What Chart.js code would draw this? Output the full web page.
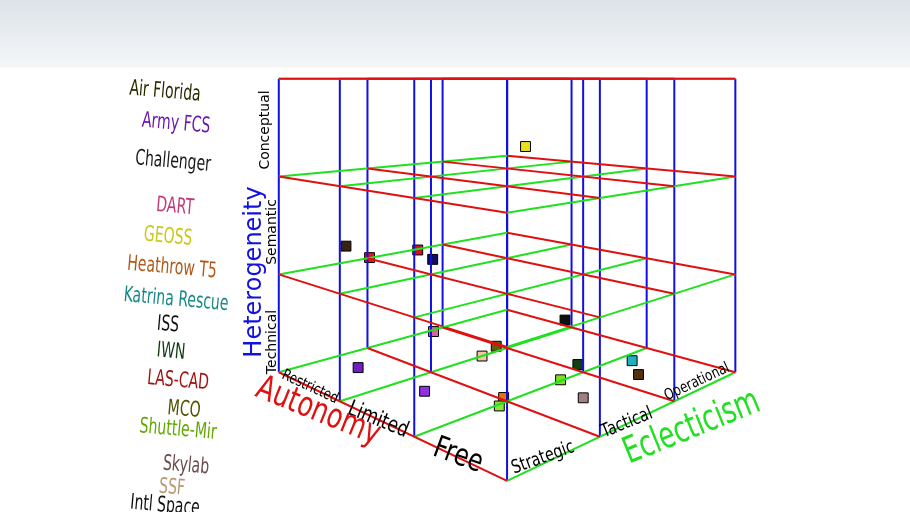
<!DOCTYPE html>
<html><head><meta charset="utf-8">
<script src="https://cdn.jsdelivr.net/npm/chart.js@4.4.0/dist/chart.umd.min.js"></script>
<style>
html,body{margin:0;padding:0;background:#fff;}
#wrap{position:relative;width:910px;height:512px;background:linear-gradient(#dde3ea 0px,#eef1f4 50px,#f4f6f8 67px,#fff 68px);}
canvas{position:absolute;left:0;top:0;}
</style></head>
<body><div id="wrap"><canvas id="c" width="910" height="512"></canvas></div>
<script>
// Projects and their (autonomy, eclecticism, heterogeneity) position, 0..3 on each axis
const projects = ["GEOSS","Air Florida","LAS-CAD","LAS-CAD 2","Challenger","ISS","DART","MCO","SSF","Army FCS","IWN","Katrina Rescue","Heathrow T5","Shuttle-Mir","Army FCS 2","Heathrow T5 2","Shuttle-Mir 2","Skylab"];
const autonomy    = [2.35,0.87,1.05,1.09,1.49,2.23,1.68,1.91,2.01,1.08,2.35,2.62,2.71,2.32,1.71,2.09,2.11,2.56];
const eclecticism = [0.86,0.15,0.27,0.77,0.61,1.48,0.46,0.96,0.70,0.13,1.51,1.92,1.89,1.32,0.34,0.87,0.80,1.33];
const heterogen   = [2.40,1.40,1.30,1.30,1.30,0.70,0.70,0.50,0.50,0.30,0.30,0.30,0.20,0.20,0.20,0.10,0.05,0.10];
const cubeColors  = ["#e8e020","#3a2210","#e81010","#d01020","#101060","#101010","#e060a0","#606010","#f0c8a0","#7020c0","#104010","#20b0c0","#503010","#80e020","#9030e0","#f07010","#90e040","#a08080"];

const autonomyTicks = ["Restricted","Limited","Free"];
const eclecticTicks = ["Strategic","Tactical","Operational"];
const heteroTicks   = ["Technical","Semantic","Conceptual"];
const legendNames   = ["Air Florida","Army FCS","Challenger","DART","GEOSS","Heathrow T5","Katrina Rescue","ISS","IWN","LAS-CAD","MCO","Shuttle-Mir","Skylab","SSF","Intl Space"];
const legendColors  = ["#2a2a00","#6a18b0","#1a1a1a","#c03878","#c8c818","#b05818","#188888","#111111","#103a10","#a01010","#505000","#60a800","#6a4a4a","#b89870","#111111"];

// perspective projection of the cube
const Z0 = 5.73, FX = 860, FY = 793, CX = 508, TOPY = 73;
function project(a, e, h) {
    const p = 3 - a;
    const X = (e - p) / Math.SQRT2;
    const Z = Z0 + (e + p) / Math.SQRT2;
    return { x: CX + FX * X / Z, y: TOPY + FY * (3 - h) / Z };
}

const datasets = [];
function addLine(p1, p2, color) {
    datasets.push({ data: [p1, p2], showLine: true, borderColor: color, borderWidth: 2,
        pointRadius: 0, fill: false });
}
for (let h = 0; h <= 3; h++) {
    for (let e = 0; e <= 3; e++) addLine(project(0, e, h), project(3, e, h), "#e01010");
    for (let a = 0; a <= 3; a++) addLine(project(a, 0, h), project(a, 3, h), "#20e020");
}
for (let a = 0; a <= 3; a++)
    for (let e = 0; e <= 3; e++) addLine(project(a, e, 0), project(a, e, 3), "#1010e0");

datasets.push({
    data: projects.map((n, i) => project(autonomy[i], eclecticism[i], heterogen[i])),
    pointStyle: "rect", pointRadius: 7,
    pointBackgroundColor: cubeColors, pointBorderColor: "#000", pointBorderWidth: 1,
    showLine: false
});

function drawText(ctx, txt, x, y, rot, font, color, sx, sy) {
    ctx.save();
    ctx.translate(x, y);
    ctx.rotate(rot * Math.PI / 180);
    ctx.scale(sx || 1, sy || 1);
    ctx.font = font;
    ctx.fillStyle = color;
    ctx.textAlign = "center";
    ctx.textBaseline = "middle";
    ctx.fillText(txt, 0, 0);
    ctx.restore();
}

const labelsPlugin = {
    id: "labels",
    afterDraw(chart) {
        const ctx = chart.ctx;
        const legendPos = [[165,92],[176,124],[173,162],[175,207],[168,237],[172,268],[176,300],[168,325],[171,352],[178,381],[184,410],[178,430],[186,466],[172,488],[165,506]];
        legendNames.forEach((n, i) => {
            drawText(ctx, n, legendPos[i][0], legendPos[i][1], 5, "18px 'DejaVu Sans'", legendColors[i], 0.78, 1.2);
        });
        const aPos = [[310,387],[378,420],[458,456]];
        const aRot = [25, 22, 20];
        const aSize = [14, 20, 28];
        autonomyTicks.forEach((t, i) => drawText(ctx, t, aPos[i][0], aPos[i][1], aRot[i], aSize[i] + "px 'DejaVu Sans'", "#000", 0.85, 1.1));
        const ePos = [[543,458],[627,423],[697,382]];
        const eRot = [-20, -22, -25];
        const eSize = [17, 17, 14];
        eclecticTicks.forEach((t, i) => drawText(ctx, t, ePos[i][0], ePos[i][1], eRot[i], eSize[i] + "px 'DejaVu Sans'", "#000", 0.85, 1.1));
        const hPos = [[272,342],[272,232],[265,130]];
        heteroTicks.forEach((t, i) => drawText(ctx, t, hPos[i][0], hPos[i][1], -90, "14px 'DejaVu Sans'", "#000"));
        drawText(ctx, "Autonomy", 318, 412, 22, "30px 'DejaVu Sans'", "#e01010", 0.85, 1.15);
        drawText(ctx, "Eclecticism", 692, 428, -22, "32px 'DejaVu Sans'", "#20e020", 0.8, 1.15);
        drawText(ctx, "Heterogeneity", 255, 272, -90, "24px 'DejaVu Sans'", "#1010e0");
    }
};

new Chart(document.getElementById("c"), {
    type: "scatter",
    data: { datasets: datasets },
    options: {
        responsive: false,
        animation: false,
        layout: { padding: 0 },
        plugins: { legend: { display: false }, tooltip: { enabled: false } },
        scales: {
            x: { type: "linear", min: 0, max: 910, display: false },
            y: { type: "linear", min: 0, max: 512, reverse: true, display: false }
        }
    },
    plugins: [labelsPlugin]
});
</script>
</body></html>
